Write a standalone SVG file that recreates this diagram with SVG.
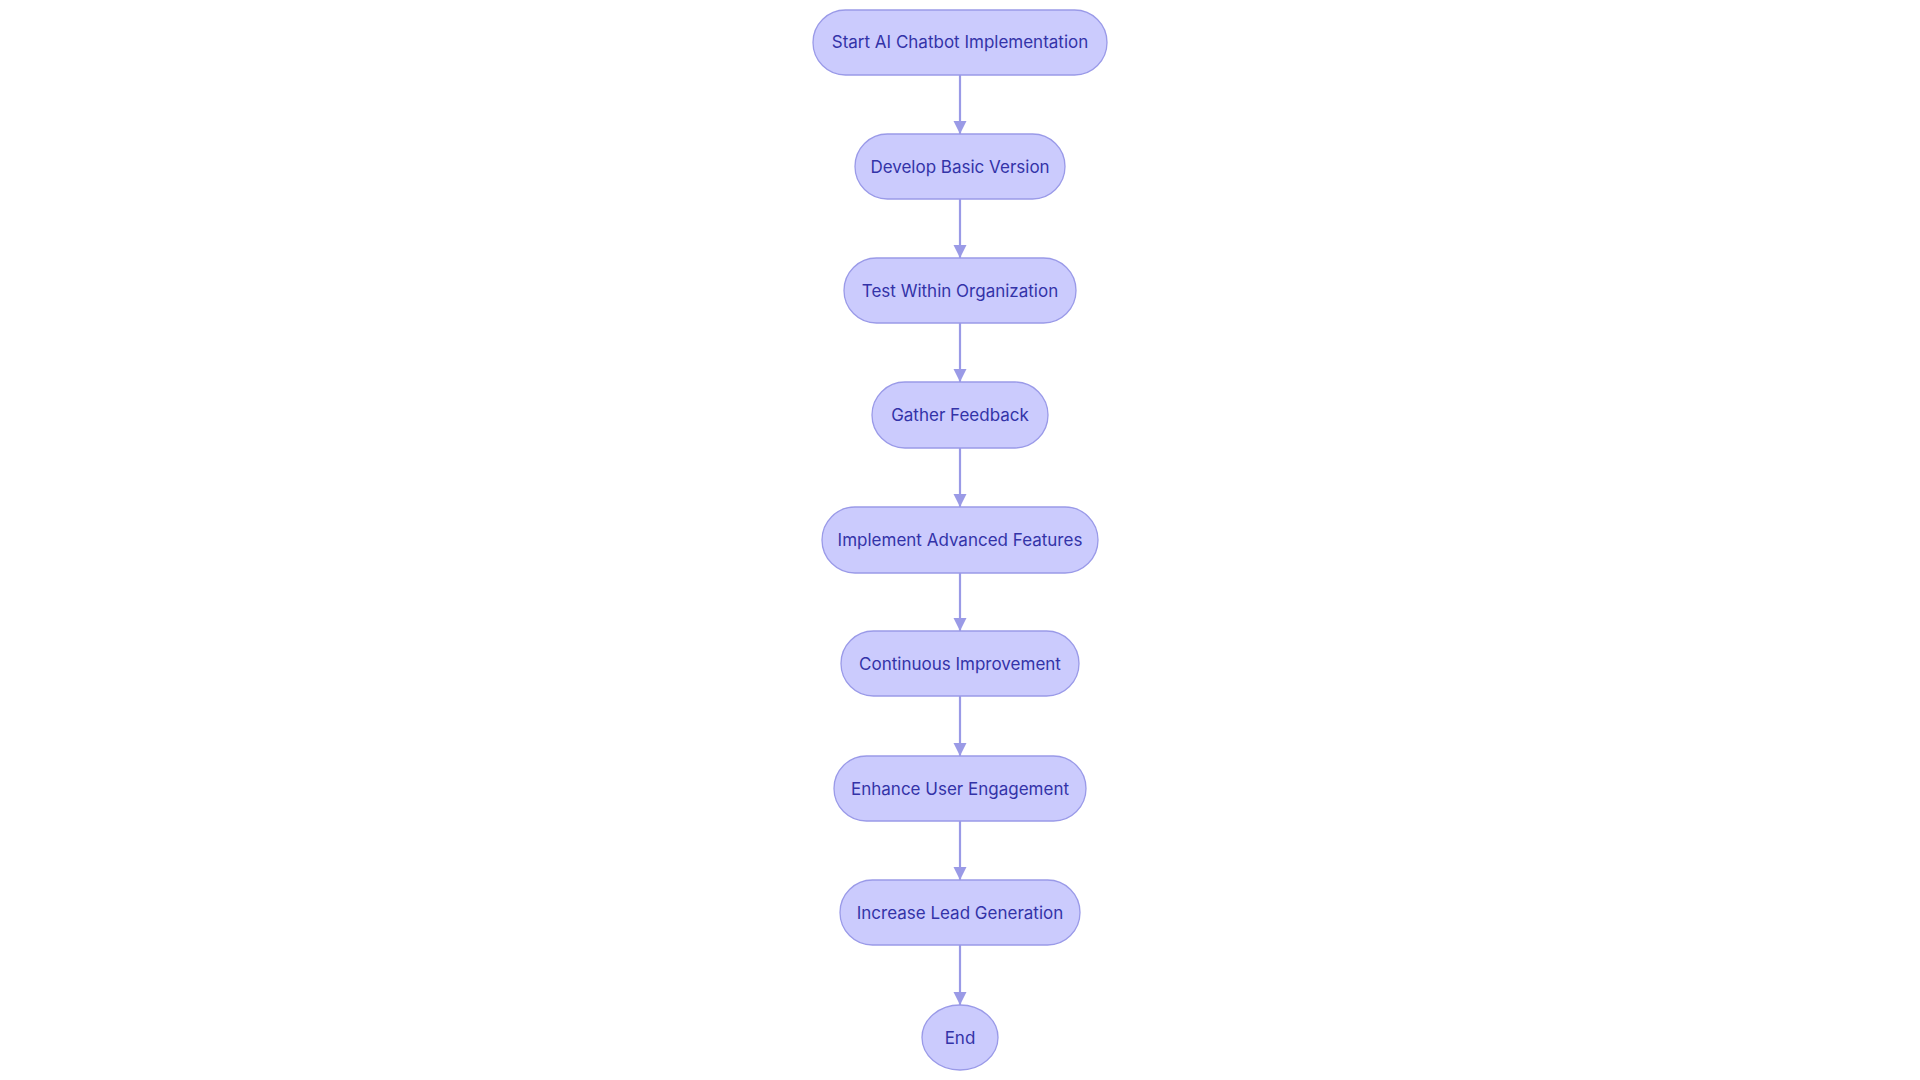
<svg xmlns="http://www.w3.org/2000/svg" width="1920" height="1080" viewBox="0 0 1920 1080">
<style>
.n rect{fill:#cbcbfd;stroke:#9a9ae8;stroke-width:1.3}
.n text{font-family:Inter,"Noto Sans",sans-serif;font-size:17px;fill:#3333a8;text-anchor:middle;dominant-baseline:central}
.c line{stroke:#9a9ae6;stroke-width:2.2;marker-end:url(#a)}
</style>
<defs><marker id="a" viewBox="0 0 10 10" refX="10" refY="5" markerWidth="6" markerHeight="6" markerUnits="strokeWidth" orient="auto"><path d="M0,0L10,5L0,10z" fill="#9a9ae6"/></marker></defs>
<rect width="1920" height="1080" fill="#fff"/>
<g class="c">
<line x1="960" y1="75" x2="960" y2="134"/>
<line x1="960" y1="199" x2="960" y2="258"/>
<line x1="960" y1="323" x2="960" y2="382"/>
<line x1="960" y1="448" x2="960" y2="507"/>
<line x1="960" y1="573" x2="960" y2="631"/>
<line x1="960" y1="696" x2="960" y2="756"/>
<line x1="960" y1="821" x2="960" y2="880"/>
<line x1="960" y1="945" x2="960" y2="1005"/>
</g>
<g id="n1" class="n"><rect x="813" y="10" width="294" height="65" rx="32.5"/><text x="960" y="42">Start AI Chatbot Implementation</text></g>
<g id="n2" class="n"><rect x="855" y="134" width="210" height="65" rx="32.5"/><text x="960" y="166.5">Develop Basic Version</text></g>
<g id="n3" class="n"><rect x="844" y="258" width="232" height="65" rx="32.5"/><text x="960" y="290.5">Test Within Organization</text></g>
<g id="n4" class="n"><rect x="872" y="382" width="176" height="66" rx="33"/><text x="960" y="415">Gather Feedback</text></g>
<g id="n5" class="n"><rect x="822" y="507" width="276" height="66" rx="33"/><text x="960" y="540">Implement Advanced Features</text></g>
<g id="n6" class="n"><rect x="841" y="631" width="238" height="65" rx="32.5"/><text x="960" y="663.5">Continuous Improvement</text></g>
<g id="n7" class="n"><rect x="834" y="756" width="252" height="65" rx="32.5"/><text x="960" y="788.5">Enhance User Engagement</text></g>
<g id="n8" class="n"><rect x="840" y="880" width="240" height="65" rx="32.5"/><text x="960" y="912.5">Increase Lead Generation</text></g>
<g id="n9" class="n"><rect x="922" y="1005" width="76" height="65" rx="38" ry="32.5"/><text x="960" y="1037.5">End</text></g>
</svg>
